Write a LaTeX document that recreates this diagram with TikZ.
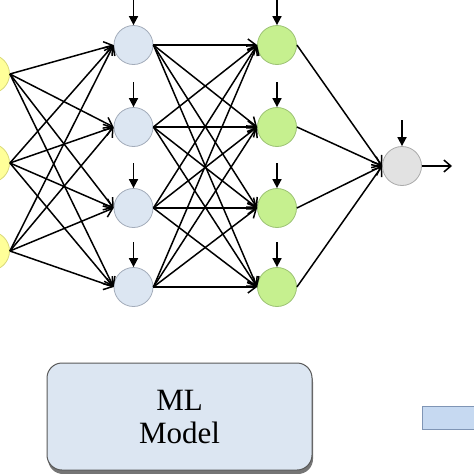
\documentclass[tikz,border=0pt]{standalone}
\usepackage{fontspec}
\setmainfont{Liberation Serif}
\usetikzlibrary{arrows.meta,shadows}
\definecolor{inY}{HTML}{FFFF99}
\definecolor{inYb}{HTML}{D8D878}
\definecolor{hB}{HTML}{DCE6F2}
\definecolor{hBb}{HTML}{A3ACBA}
\definecolor{hG}{HTML}{C6F08F}
\definecolor{hGb}{HTML}{9CC274}
\definecolor{oG}{HTML}{E2E2E2}
\definecolor{oGb}{HTML}{AAAAAA}
\definecolor{boxF}{HTML}{DCE6F2}
\definecolor{rectF}{HTML}{C6D9F1}
\definecolor{rectB}{HTML}{7F95B5}
\tikzset{
  neuron/.style={circle, minimum size=39pt, inner sep=0pt, line width=0.8pt},
  innode/.style={neuron, fill=inY, draw=inYb},
  bluenode/.style={neuron, fill=hB, draw=hBb},
  greennode/.style={neuron, fill=hG, draw=hGb},
  outnode/.style={neuron, fill=oG, draw=oGb},
  edge/.style={line width=1.5pt, -{Straight Barb[length=8pt,width=12pt,line width=1.5pt]}},
  bias/.style={line width=1.7pt, -{Triangle[length=9pt,width=9pt]}},
  mlbox/.style={rounded corners=15pt, fill=boxF, draw=black!65, line width=1pt,
    minimum width=265pt, minimum height=107pt, inner sep=0pt,
    drop shadow={shadow xshift=1pt, shadow yshift=-4pt, fill=black!60, opacity=0.9},
    font=\fontsize{31}{35}\selectfont, align=center},
  smallrect/.style={fill=rectF, draw=rectB, line width=1pt}
}
\begin{document}
\begin{tikzpicture}[x=1pt,y=-1pt]
\useasboundingbox (0,0) rectangle (474,474);
\clip (0,0) rectangle (474,474);
% input nodes
\node[innode] (i1) at (-10,74) {};
\node[innode] (i2) at (-10,163) {};
\node[innode] (i3) at (-10,251) {};
% hidden layer 1
\node[bluenode] (h1) at (133.5,45) {};
\node[bluenode] (h2) at (133.5,127) {};
\node[bluenode] (h3) at (133.5,208) {};
\node[bluenode] (h4) at (133.5,287) {};
% hidden layer 2
\node[greennode] (g1) at (277,45) {};
\node[greennode] (g2) at (277,127) {};
\node[greennode] (g3) at (277,208) {};
\node[greennode] (g4) at (277,287) {};
% output
\node[outnode] (o) at (402,166) {};
% bias coordinates
\coordinate (bh1) at (133.5,-2);
\coordinate (bh2) at (133.5,82);
\coordinate (bh3) at (133.5,163);
\coordinate (bh4) at (133.5,242);
\coordinate (bg1) at (277,-2);
\coordinate (bg2) at (277,82);
\coordinate (bg3) at (277,163);
\coordinate (bg4) at (277,242);
\coordinate (bo) at (402,120);
\coordinate (oend) at (452,166);
% edges
\foreach \a in {i1,i2,i3}{
  \foreach \b in {h1,h2,h3,h4}{
    \draw[edge] (\a.east) -- (\b.west);
  }
}
\foreach \a in {h1,h2,h3,h4}{
  \foreach \b in {g1,g2,g3,g4}{
    \draw[edge] (\a.east) -- (\b.west);
  }
}
\foreach \a in {g1,g2,g3,g4}{
  \draw[edge] (\a.east) -- (o.west);
}
\draw[line width=1.5pt, -{Straight Barb[length=7pt,width=12pt,line width=1.5pt]}] (o.east) -- (oend);
% bias arrows
\foreach \n in {h1,h2,h3,h4,g1,g2,g3,g4}{
  \draw[bias] (b\n) -- (\n.north);
}
\draw[bias] (bo) -- (o.north);
% ML model box
\node[mlbox] (ml) at (179.5,416.5) {ML\\[-2pt]Model};
% small rect at right
\node[smallrect, minimum width=70pt, minimum height=23pt, inner sep=0pt, anchor=north west] (sr) at (422,406) {};
\end{tikzpicture}
\end{document}
